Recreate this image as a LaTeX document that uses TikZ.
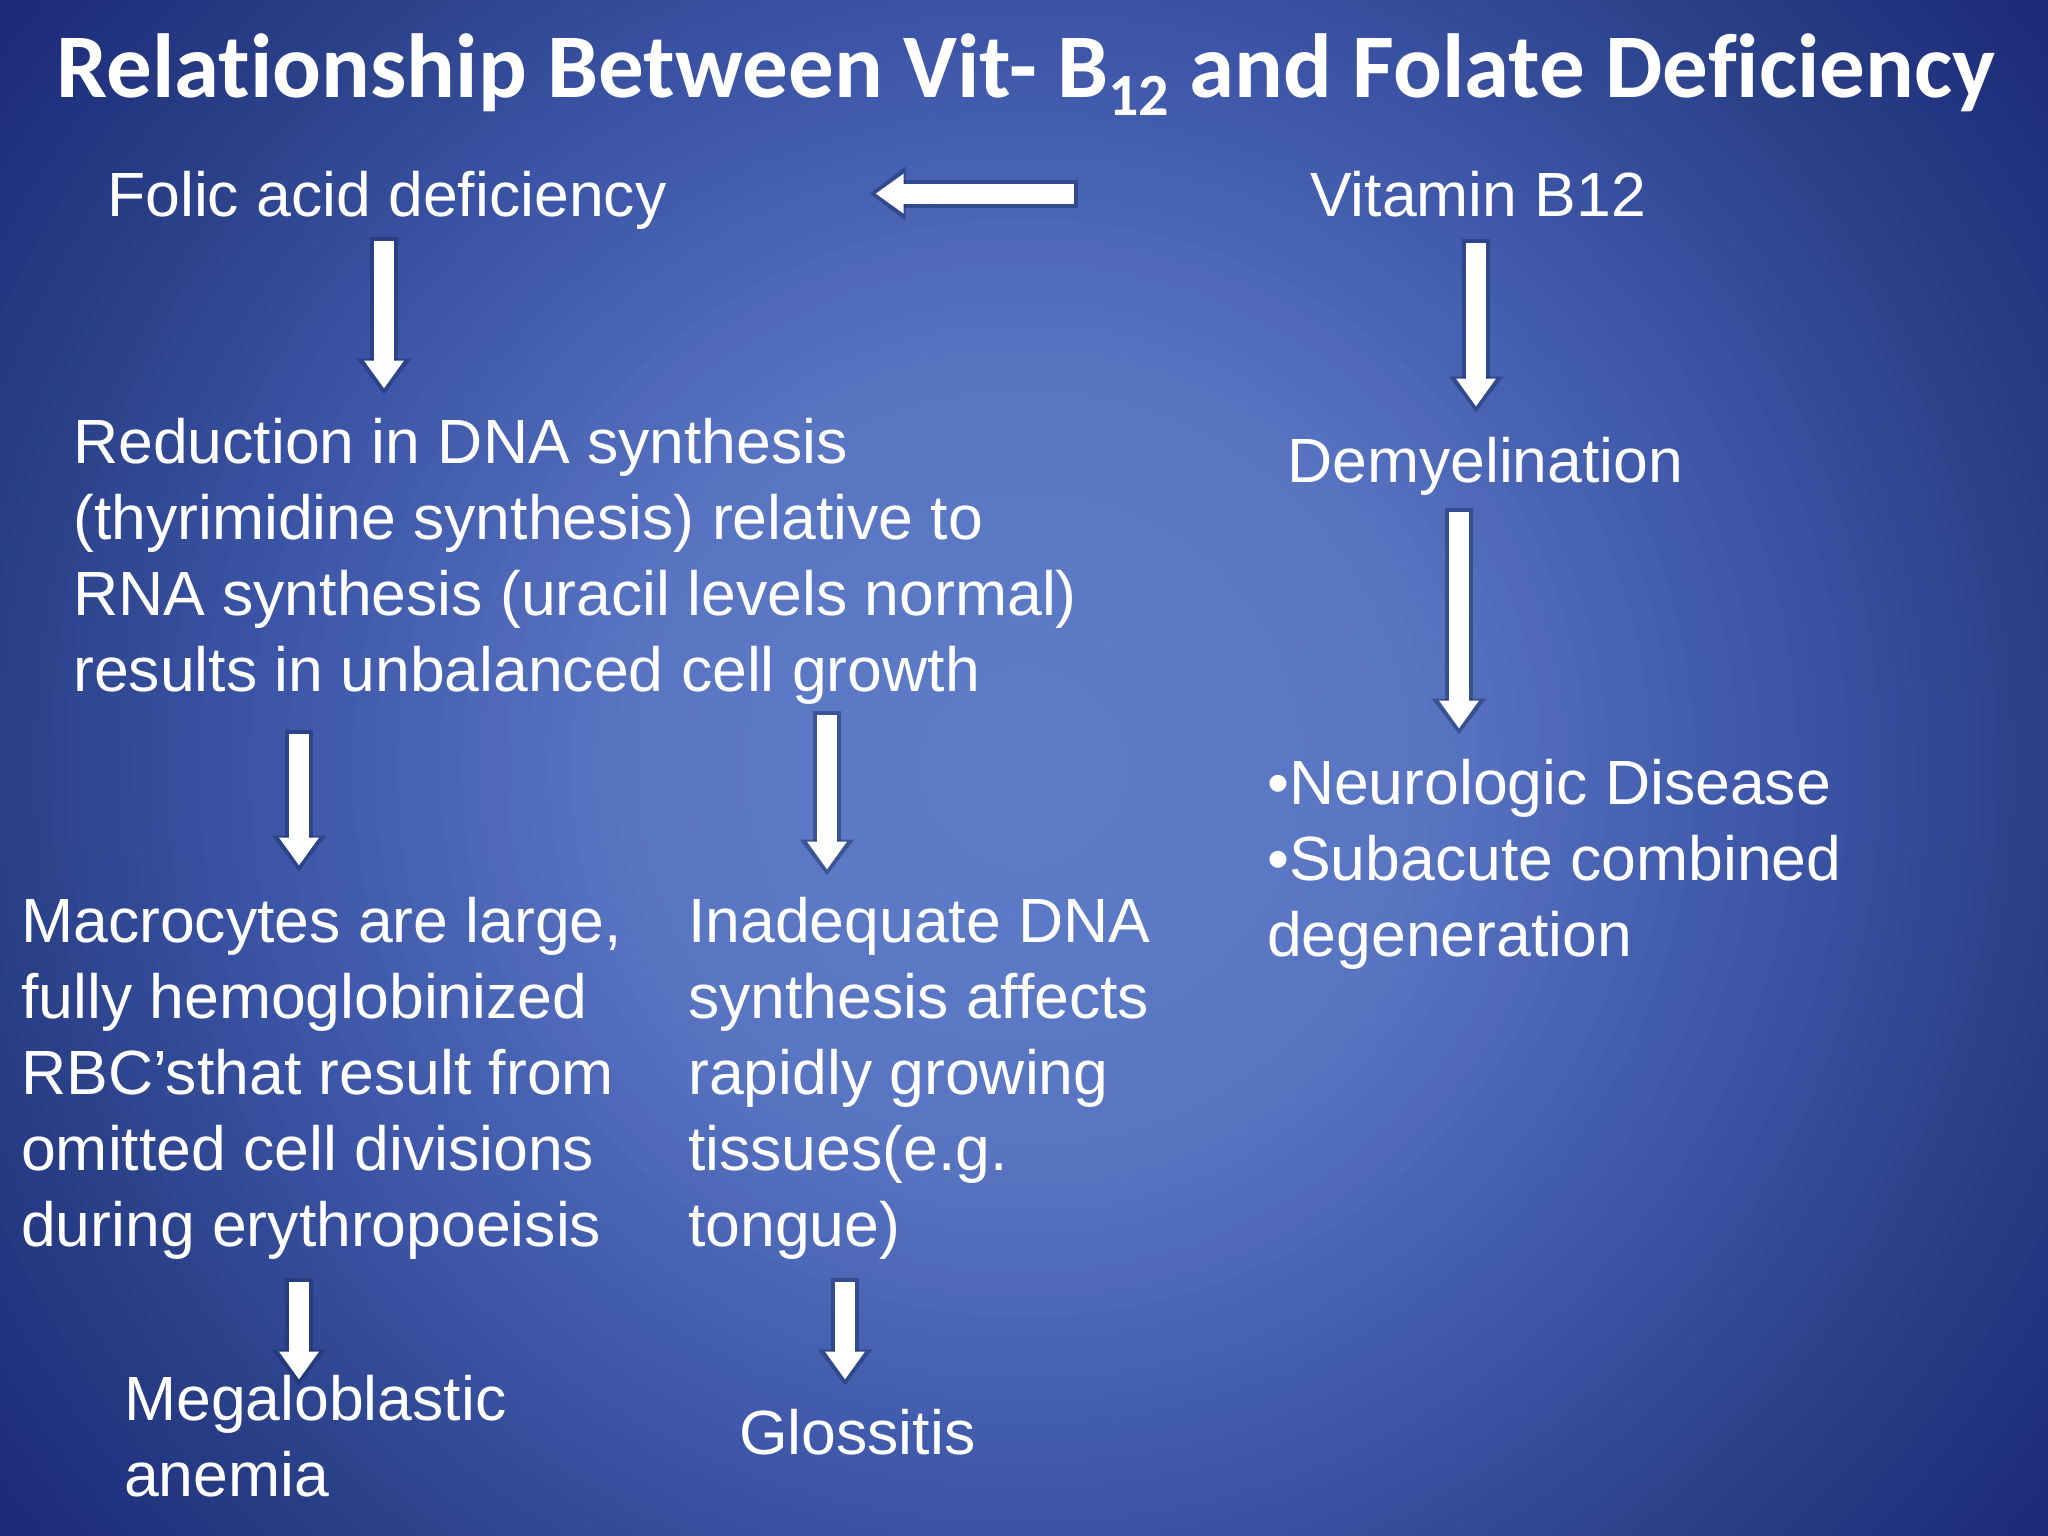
\documentclass[tikz,border=0pt]{standalone}
\usepackage{fontspec}
\setmainfont{Liberation Sans}
\newfontfamily\titlefont[Ligatures=NoCommon]{Carlito}
\usetikzlibrary{arrows.meta,calc}

\definecolor{edgeblue}{RGB}{28,50,105}
% background colours, from the centre outwards
\definecolor{bgA}{RGB}{95,125,200}
\definecolor{bgB}{RGB}{89,117,194}
\definecolor{bgC}{RGB}{61,86,168}
\definecolor{bgD}{RGB}{42,64,136}
\definecolor{bgE}{RGB}{28,42,120}

\begin{document}
\begin{tikzpicture}[
    x=1pt, y=-1pt,
    txt/.style={anchor=base west, inner sep=0pt, align=left, text=white, font=\fontsize{62.5}{76}\selectfont},
    titletxt/.style={anchor=base, inner sep=0pt, text=white, font=\titlefont\bfseries\fontsize{91}{96}\selectfont},
    blockarr/.style 2 args={draw=white, line width=20pt, -{Triangle[width=38pt,length=28pt]},
        shorten <=#1, shorten >=#2,
        preaction={draw=edgeblue, draw opacity=0.5, line width=28pt, -{Triangle[width=52pt,length=36pt]},
            shorten <=#1-4pt, shorten >=#2-6pt}}
]

% Background (stepped radial glow)
\useasboundingbox (0,0) rectangle (2048,1536);
\begin{scope}
  \clip (0,0) rectangle (2048,1536);
  \fill[bgE] (0,0) rectangle (2048,1536);
  \foreach \rlo/\rhi/\colin/\colout in {1.00/1.26/bgD/bgE, 0.74/1.00/bgC/bgD, 0.40/0.74/bgB/bgC, 0.00/0.40/bgA/bgB}{
    \foreach \i in {0,...,15}{
      \pgfmathsetmacro\rr{\rhi-\i*(\rhi-\rlo)/16}
      \pgfmathsetmacro\pc{100*(\rr-\rlo)/(\rhi-\rlo)}
      \fill[\colout!\pc!\colin] (1024,768) ellipse [x radius=\rr*1024, y radius=\rr*1000];
    }
  }
\end{scope}

% Arrow columns
\coordinate (colF) at (384,0);
\coordinate (colV) at (1476,0);
\coordinate (colD) at (1459,0);
\coordinate (colA) at (299,0);
\coordinate (colB) at (827,0);
\coordinate (colC) at (845,0);

% Nodes (multi-line nodes sit on the baseline of their last line)
\node[titletxt] (title) at (1026,98) {Relationship Between Vit- B\raisebox{-18pt}{\fontsize{60}{60}\selectfont 12} and Folate Deficiency};

\node[txt] (folic) at (107,216) {Folic acid deficiency};
\node[txt] (vitb) at (1310,216) {Vitamin B12};

\node[txt] (reduction) at (73,691) {Reduction in DNA synthesis\\(thyrimidine synthesis) relative to\\RNA synthesis (uracil levels normal)\\results in unbalanced cell growth};
\node[txt] (demyel) at (1287,482) {Demyelination};
\node[txt] (neuro) at (1267,956) {•Neurologic Disease\\•Subacute combined\\degeneration};

\node[txt] (macro) at (21,1246) {Macrocytes are large,\\fully hemoglobinized\\RBC’sthat result from\\omitted cell divisions\\during erythropoeisis};
\node[txt] (inadequate) at (688,1246) {Inadequate DNA\\synthesis affects\\rapidly growing\\tissues(e.g.\\tongue)};

\node[txt] (megalo) at (124,1496) {Megaloblastic\\anemia};
\node[txt] (gloss) at (739,1454) {Glossitis};

% Connections
\draw[blockarr={236pt}{209pt}] (vitb.west) -- (vitb.west -| folic.east);
\draw[blockarr={12pt}{29pt}] (folic.south -| colF) -- (reduction.north -| colF);
\draw[blockarr={26pt}{30pt}] (vitb.south -| colV) -- (demyel.north -| colV);
\draw[blockarr={17pt}{30pt}] (demyel.south -| colD) -- (neuro.north -| colD);
\draw[blockarr={30pt}{31pt}] (reduction.south -| colA) -- (macro.north -| colA);
\draw[blockarr={11pt}{27pt}] (reduction.south -| colB) -- (inadequate.north -| colB);
\draw[blockarr={23pt}{-5pt}] (macro.south -| colA) -- (megalo.north -| colA);
\draw[blockarr={23pt}{29pt}] (inadequate.south -| colC) -- (gloss.north -| colC);

\end{tikzpicture}
\end{document}
